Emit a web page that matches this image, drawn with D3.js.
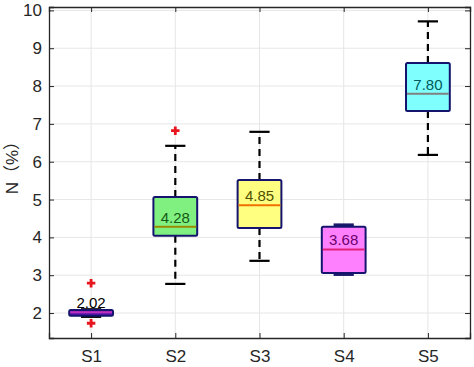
<!DOCTYPE html>
<html>
<head>
<meta charset="utf-8">
<script src="https://cdn.jsdelivr.net/npm/d3@7"></script>
<style>
  body { margin: 0; background: #fff; }
  text { font-family: Arial, "Liberation Sans", sans-serif; }
</style>
</head>
<body>
<div id="chart"></div>
<script>
// groups and box statistics
var groups = ["S1", "S2", "S3", "S4", "S5"];
var q1 = [1.93, 4.04, 4.25, 3.06, 7.34];
var medians = [2.02, 4.28, 4.85, 3.68, 7.80];
var q3 = [2.08, 5.07, 5.52, 4.28, 8.61];
var whiskerLow = [1.90, 2.77, 3.38, 3.02, 6.18];
var whiskerHigh = [2.10, 6.42, 6.79, 4.33, 9.71];
var outliers = [[2.79, 1.73], [6.82], [], [], []];
var medianLabels = ["2.02", "4.28", "4.85", "3.68", "7.80"];
var yTicks = [2, 3, 4, 5, 6, 7, 8, 9, 10];

var boxFill = ["#5a14a8", "#80f080", "#ffff80", "#ff80ff", "#80ffff"];
var medianColor = ["#c030c0", "#9a8a00", "#f07000", "#e0207a", "#808080"];
var labelColor = ["#000000", "#145a14", "#505000", "#6a006a", "#005a5a"];

var width = 474, height = 367;
var margin = { left: 49, right: 4, top: 7, bottom: 29 };

var svg = d3.select("#chart").append("svg")
    .attr("width", width).attr("height", height);

var x = d3.scaleLinear()
    .domain([0.5, 5.5])
    .range([margin.left, width - margin.right]);

var y = d3.scaleLinear()
    .domain([1.34, 10.09])
    .range([height - margin.bottom, margin.top]);

// grid
svg.append("g").selectAll("line.gy").data(yTicks).enter().append("line")
    .attr("x1", margin.left).attr("x2", width - margin.right)
    .attr("y1", function (d) { return y(d); }).attr("y2", function (d) { return y(d); })
    .attr("stroke", "#e6e6e6").attr("stroke-width", 1);
svg.append("g").selectAll("line.gx").data(groups).enter().append("line")
    .attr("x1", function (d, i) { return x(i + 1); }).attr("x2", function (d, i) { return x(i + 1); })
    .attr("y1", margin.top).attr("y2", height - margin.bottom)
    .attr("stroke", "#e6e6e6").attr("stroke-width", 1);

// axes
var yAxis = d3.axisLeft(y).tickValues(yTicks).tickSize(-5).tickPadding(7);
var xAxis = d3.axisBottom(x).tickValues([1, 2, 3, 4, 5])
    .tickFormat(function (d) { return groups[d - 1]; }).tickSize(-5).tickPadding(12);

var gy = svg.append("g").attr("transform", "translate(" + margin.left + ",0)").call(yAxis);
var gx = svg.append("g").attr("transform", "translate(0," + (height - margin.bottom) + ")").call(xAxis);
var gr = svg.append("g").attr("transform", "translate(" + (width - margin.right) + ",0)")
    .call(d3.axisRight(y).tickValues(yTicks).tickSize(-5).tickFormat(""));
var gt = svg.append("g").attr("transform", "translate(0," + margin.top + ")")
    .call(d3.axisTop(x).tickValues([1, 2, 3, 4, 5]).tickSize(-5).tickFormat(""));

[gy, gx, gr, gt].forEach(function (g) {
    g.select(".domain").attr("stroke", "#262626").attr("stroke-width", 1.3);
    g.selectAll(".tick line").attr("stroke", "#262626");
    g.selectAll(".tick text").attr("fill", "#262626").style("font-size", "17px");
});

// y label
svg.append("text")
    .attr("transform", "translate(18," + y(5.95) + ") rotate(-90)")
    .attr("text-anchor", "middle")
    .attr("fill", "#262626")
    .style("font-size", "17px")
    .style("font-family", "'Liberation Sans', 'Noto Sans CJK SC', sans-serif")
    .text("N（%）");

var boxW = x(1.26) - x(1);
var capW = x(1.12) - x(1);

var g = svg.append("g").selectAll("g").data(groups).enter().append("g");

// whiskers
g.append("line")
    .attr("x1", function (d, i) { return x(i + 1); }).attr("x2", function (d, i) { return x(i + 1); })
    .attr("y1", function (d, i) { return y(q3[i]); }).attr("y2", function (d, i) { return y(whiskerHigh[i]); })
    .attr("stroke", "#000").attr("stroke-width", 2.2).attr("stroke-dasharray", "7,5");
g.append("line")
    .attr("x1", function (d, i) { return x(i + 1); }).attr("x2", function (d, i) { return x(i + 1); })
    .attr("y1", function (d, i) { return y(q1[i]); }).attr("y2", function (d, i) { return y(whiskerLow[i]); })
    .attr("stroke", "#000").attr("stroke-width", 2.2).attr("stroke-dasharray", "7,5");

// caps
[whiskerHigh, whiskerLow].forEach(function (arr) {
    g.append("line")
        .attr("x1", function (d, i) { return x(i + 1) - capW; })
        .attr("x2", function (d, i) { return x(i + 1) + capW; })
        .attr("y1", function (d, i) { return y(arr[i]); })
        .attr("y2", function (d, i) { return y(arr[i]); })
        .attr("stroke", function (d, i) { return i === 3 ? "#1a1a6a" : "#000"; })
        .attr("stroke-width", function (d, i) { return i === 3 ? 3 : 2.2; });
});

// boxes
g.append("rect")
    .attr("x", function (d, i) { return x(i + 1) - boxW; })
    .attr("width", 2 * boxW)
    .attr("y", function (d, i) { return y(q3[i]); })
    .attr("height", function (d, i) { return y(q1[i]) - y(q3[i]); })
    .attr("fill", function (d, i) { return boxFill[i]; })
    .attr("stroke", "#14146e").attr("stroke-width", 2)
    .attr("rx", 1.5);

// medians
g.append("line")
    .attr("x1", function (d, i) { return x(i + 1) - boxW + 1; })
    .attr("x2", function (d, i) { return x(i + 1) + boxW - 1; })
    .attr("y1", function (d, i) { return y(medians[i]); })
    .attr("y2", function (d, i) { return y(medians[i]); })
    .attr("stroke", function (d, i) { return medianColor[i]; })
    .attr("stroke-width", 2);

// median labels
g.append("text")
    .attr("x", function (d, i) { return x(i + 1); })
    .attr("y", function (d, i) { return y(medians[i]) - 4; })
    .attr("text-anchor", "middle")
    .attr("fill", function (d, i) { return labelColor[i]; })
    .style("font-size", "15px")
    .text(function (d, i) { return medianLabels[i]; });

// outliers
g.each(function (d, i) {
    d3.select(this).selectAll("path.out").data(outliers[i]).enter().append("path")
        .attr("d", d3.symbol().type(d3.symbolCross).size(40))
        .attr("transform", function (v) { return "translate(" + x(i + 1) + "," + y(v) + ")"; })
        .attr("fill", "#e8141e");
});
</script>
</body>
</html>
